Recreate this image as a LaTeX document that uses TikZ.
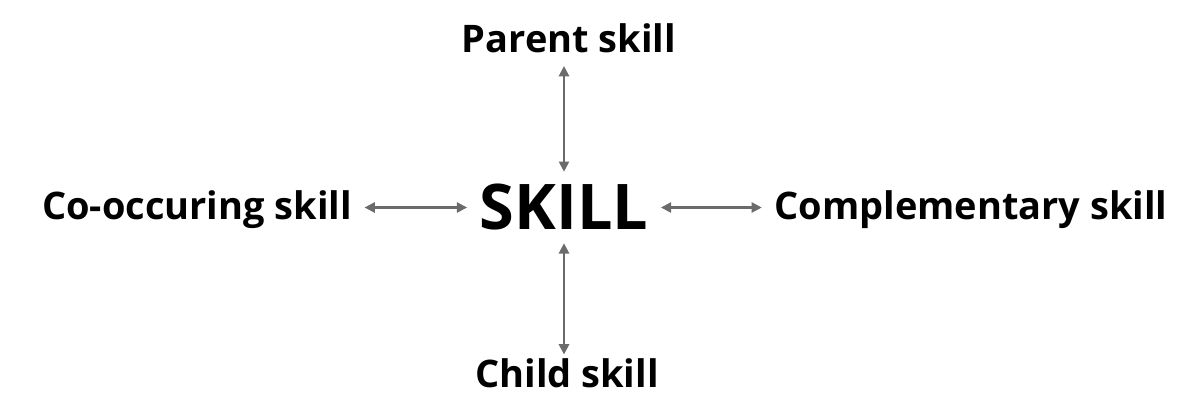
\documentclass[tikz,border=0pt]{standalone}
\usepackage{fontspec}
\setmainfont{Open Sans}
\usetikzlibrary{arrows.meta,positioning}

\begin{document}
\begin{tikzpicture}[x=0.01cm,y=-0.01cm,
  label/.style={inner sep=0pt,anchor=base,font=\fontsize{10.8pt}{12pt}\selectfont\bfseries},
  link/.style={{Triangle[length=2.9pt,width=2.9pt]}-{Triangle[length=2.9pt,width=2.9pt]},
    draw=black!58,line width=0.6pt,shorten <=0.12cm,shorten >=0.12cm}]
\useasboundingbox (0,0) rectangle (1200,407);
\node[inner sep=0pt,anchor=base,font=\fontsize{17.9pt}{20pt}\selectfont\bfseries] (skill) at (564,230) {SKILL};
\node[label] (parent) at (569,53) {Parent skill};
\node[label] (child) at (567,388) {Child skill};
\node[label] (cooc) at (197,220) {Co-occuring skill};
\node[label] (compl) at (971,220) {Complementary skill};
\draw[link] (skill.north) -- (skill.north |- parent.south);
\draw[link,shorten >=0.04cm] (skill.south) -- (skill.south |- child.north);
\draw[link] (skill.west) -- (skill.west -| cooc.east);
\draw[link] (skill.east) -- (skill.east -| compl.west);
\end{tikzpicture}
\end{document}
